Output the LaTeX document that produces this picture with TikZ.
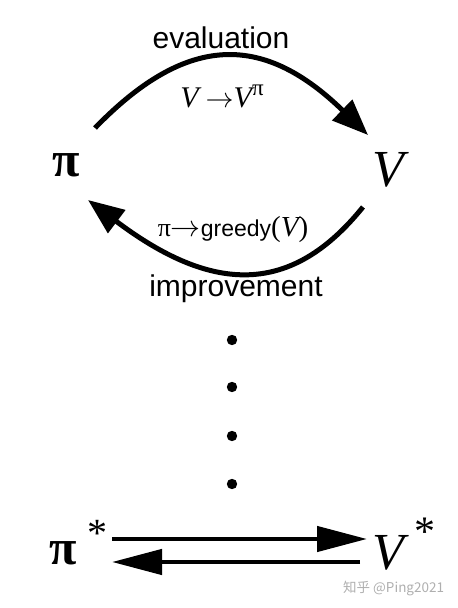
\documentclass[tikz,border=0pt]{standalone}
\usepackage{graphicx}
\usepackage{fontspec}
\setmainfont{Liberation Serif}
\newfontfamily\sansf{Liberation Sans}
\newfontfamily\cjkf{Noto Sans CJK SC}
\usetikzlibrary{arrows.meta}
\definecolor{wm}{RGB}{175,175,175}
\newcommand\myrarr[1]{\scalebox{#1}{\normalsize$\rightarrow$}}
\begin{document}
\begin{tikzpicture}[x=1pt,y=1pt,
  lbl/.style={inner sep=0pt, anchor=base},
  arc/.style={line width=5pt, -{Triangle[length=36pt,width=28pt]}},
  straight/.style={line width=4.5pt, -{Triangle[length=50pt,width=25pt]}},
  dotc/.style={fill=black, draw=none}]
\useasboundingbox (0,0) rectangle (458,608);
% main symbols
\node[lbl] (pi) at (66,431) {\fontsize{50}{50}\selectfont\bfseries π};
\node[lbl] (V) at (388,421) {\fontsize{52}{52}\selectfont\itshape V};
% labels
\node[lbl] (eval) at (221,559) {\sansf\fontsize{30}{30}\selectfont evaluation};
\node[lbl] (evalf) at (222,500) {\fontsize{30}{30}\selectfont\itshape V\hspace{7pt}\upshape\myrarr{2.8}\itshape V\raisebox{12pt}{\upshape\fontsize{23}{23}\selectfont π}};
\node[lbl] (greedy) at (233,371) {\fontsize{26}{26}\selectfont π\myrarr{3}\fontsize{23}{23}\selectfont\sansf greedy\rmfamily\fontsize{29}{29}\selectfont(\itshape V\upshape)};
\node[lbl] (impr) at (236,311) {\sansf\fontsize{30}{30}\selectfont improvement};
% arc end points
\coordinate (a1) at (95,480);
\coordinate (a2) at (368,473);
\coordinate (b1) at (363,401);
\coordinate (b2) at (88,408);
\draw[arc] (a1) .. controls (190,578) and (266,572) .. (a2);
\draw[arc] (b1) .. controls (292,313) and (214,313) .. (b2);
% dots
\fill[dotc] (232,268) circle (5.2) node (d1) {};
\fill[dotc] (232,221) circle (5.2) node (d2) {};
\fill[dotc] (232,172) circle (5.2) node (d3) {};
\fill[dotc] (232,124) circle (5.2) node (d4) {};
% bottom
\node[lbl, anchor=base west] (pis) at (49,43) {\fontsize{50}{50}\selectfont\bfseries π\hspace{11pt}\mdseries\raisebox{18pt}{\fontsize{40}{40}\selectfont *}};
\node[lbl, anchor=base west] (vs) at (372,38) {\fontsize{52}{52}\selectfont\itshape V\upshape\hspace{11pt}\raisebox{24pt}{\fontsize{42}{42}\selectfont *}};
\coordinate (s1) at (112,69);
\coordinate (s2) at (367,69);
\coordinate (t1) at (360,46);
\coordinate (t2) at (112,46);
\draw[straight] (s1) -- (s2);
\draw[straight] (t1) -- (t2);
% watermark
\node[lbl, anchor=base west, text=wm] (wmk) at (343,15) {\cjkf\fontsize{13.5}{14}\selectfont 知乎 @Ping2021};
\end{tikzpicture}
\end{document}
